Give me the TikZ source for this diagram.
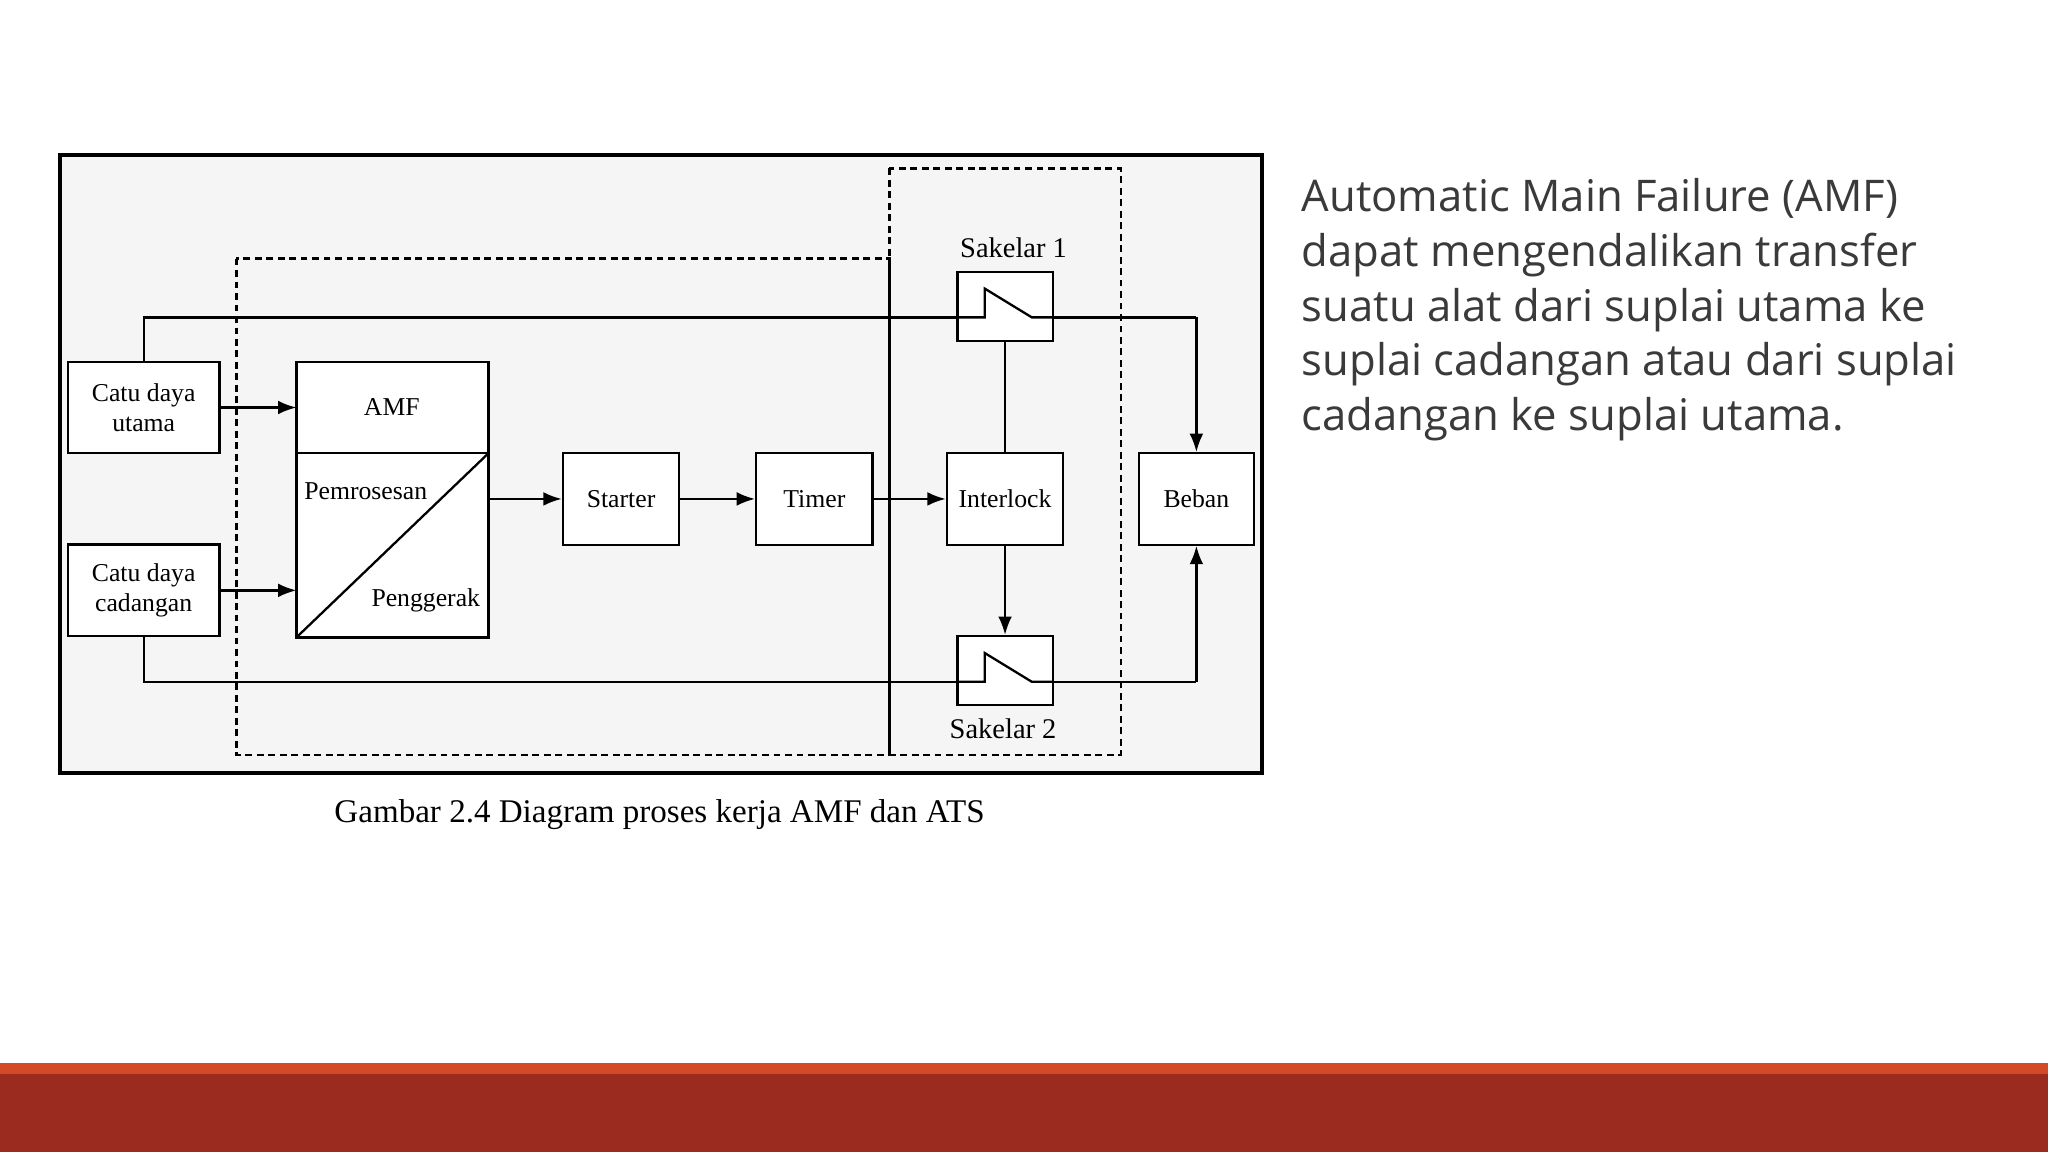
\documentclass[tikz,border=0pt]{standalone}
\usepackage{fontspec}
\setmainfont{Liberation Serif}
\newfontfamily\sidefont{Open Sans}
\usetikzlibrary{arrows.meta}
\definecolor{barO}{HTML}{D24A26}
\definecolor{barR}{HTML}{9B2B1F}
\definecolor{txtc}{HTML}{3A3A3A}
\begin{document}
\begin{tikzpicture}[x=0.01cm,y=-0.01cm,
  blk/.style={draw,line width=0.5pt,fill=white,minimum width=0,inner sep=0},
  lbl/.style={font=\fontsize{5.6}{6.6}\selectfont,align=center},
  ln/.style={line width=0.5pt},
  arr/.style={line width=0.5pt,-{Latex[length=4pt,width=3pt]}},
  dsh/.style={line width=0.5pt,dash pattern=on 1.5pt off 1pt}]
\useasboundingbox (0,0) rectangle (1568,882);
\fill[white] (0,0) rectangle (1568,882);
\fill[barO] (0,814) rectangle (1568,822);
\fill[barR] (0,822) rectangle (1568,882);
% frame
\draw[fill=black!4,line width=0.9pt] (46,119) rectangle (966,592);
\draw[dsh] (181,198) rectangle (681,578);
\draw[dsh] (681,129) rectangle (858,578);
% boxes
\node[blk,lbl,minimum width=1.16cm,minimum height=0.7cm] (cu) at (110,312) {Catu daya\\utama};
\node[blk,lbl,minimum width=1.16cm,minimum height=0.7cm] (cc) at (110,452) {Catu daya\\cadangan};
\node[blk,minimum width=1.47cm,minimum height=2.11cm] (amf) at (300.5,382.5) {};
\draw[ln] (227,347) -- (374,347);
\draw[ln] (227,488) -- (374,347);
\node[lbl] (amft) at (300,312) {AMF};
\node[lbl] (pem) at (280,376) {Pemrosesan};
\node[lbl] (peng) at (326,460) {Penggerak};
\node[blk,lbl,minimum width=0.89cm,minimum height=0.7cm] (st) at (475.5,382) {Starter};
\node[blk,lbl,minimum width=0.89cm,minimum height=0.7cm] (ti) at (623.5,382) {Timer};
\node[blk,lbl,minimum width=0.89cm,minimum height=0.7cm] (il) at (769.5,382) {Interlock};
\node[blk,lbl,minimum width=0.88cm,minimum height=0.7cm] (be) at (916,382) {Beban};
% lines
\coordinate (t1) at (110,243); \coordinate (t2) at (916,243);
\coordinate (b1) at (110,522); \coordinate (b2) at (916,522);
\draw[ln] (cu.north) -- (t1) -- (t2);
\draw[arr] (t2) -- (be.north);
\draw[ln] (cc.south) -- (b1) -- (b2);
\draw[arr] (b2) -- (be.south);
% switches
\node[blk,minimum width=0.73cm,minimum height=0.53cm] (s1) at (769.5,234.5) {};
\node[blk,minimum width=0.73cm,minimum height=0.53cm] (s2) at (769.5,513.5) {};
\draw[ln] (733,243) -- (754,243) -- (754,221) -- (790,243) -- (806,243);
\draw[ln] (733,522) -- (754,522) -- (754,500) -- (790,522) -- (806,522);
\node[lbl,font=\fontsize{6.2}{7}\selectfont] (l1) at (776,190) {Sakelar 1};
\node[lbl,font=\fontsize{6.2}{7}\selectfont] (l2) at (768,558) {Sakelar 2};
% arrows
\draw[arr] (168,312) -- (227,312);
\draw[arr] (168,452) -- (227,452);
\draw[arr] (374,382) -- (st.west);
\draw[arr] (st) -- (ti);
\draw[arr] (ti) -- (il);
\draw[ln] (il.north) -- (s1.south);
\draw[arr] (il.south) -- (s2.north);
\node[font=\fontsize{7.2}{8}\selectfont] (cap) at (505,624) {Gambar 2.4 Diagram proses kerja AMF dan ATS};
\node[anchor=north west,align=left,text=txtc,font=\sidefont\fontsize{9.5}{11.9}\selectfont,inner sep=0] (txt) at (996,136)
{Automatic Main Failure (AMF)\\dapat mengendalikan transfer\\suatu alat dari suplai utama ke\\suplai cadangan atau dari suplai\\cadangan ke suplai utama.};
\end{tikzpicture}
\end{document}
